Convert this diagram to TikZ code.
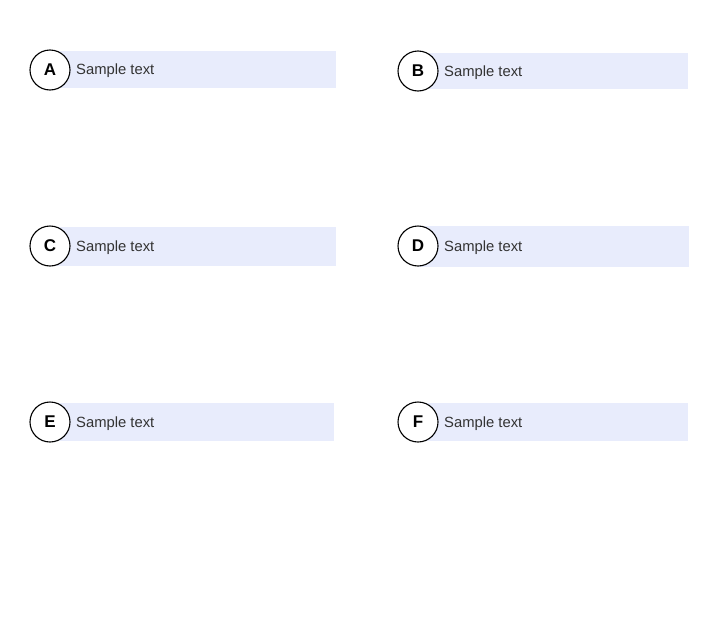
\documentclass[tikz,border=0pt]{standalone}
\usepackage{fontspec}
\setmainfont{Liberation Sans}
\definecolor{bandfill}{HTML}{E8ECFC}
\definecolor{txt}{HTML}{333333}
\begin{document}
\begin{tikzpicture}[x=1pt,y=-1pt,
  band/.style={fill=bandfill,draw=none},
  badge/.style={circle,draw=black,line width=1.1pt,fill=white,minimum size=40pt,inner sep=0pt,font=\fontsize{17}{19}\selectfont\bfseries},
  lbl/.style={anchor=west,inner sep=0pt,text=txt,font=\fontsize{14.8}{16}\selectfont}]
\useasboundingbox (0,0) rectangle (720,616);
% row 1
\fill[band] (50,51) rectangle (336,88);
\node[badge] (A) at (50,70) {A};
\node[lbl] (tA) at (76,71) {Sample text};
\fill[band] (418,53) rectangle (688,89);
\node[badge] (B) at (418,71) {B};
\node[lbl] (tB) at (444,72.5) {Sample text};
% row 2
\fill[band] (50,227) rectangle (336,266);
\node[badge] (C) at (50,246) {C};
\node[lbl] (tC) at (76,248) {Sample text};
\fill[band] (418,226) rectangle (689,267);
\node[badge] (D) at (418,246) {D};
\node[lbl] (tD) at (444,248) {Sample text};
% row 3
\fill[band] (50,403) rectangle (334,441);
\node[badge] (E) at (50,422) {E};
\node[lbl] (tE) at (76,424) {Sample text};
\fill[band] (418,403) rectangle (688,441);
\node[badge] (F) at (418,422) {F};
\node[lbl] (tF) at (444,423.5) {Sample text};
\end{tikzpicture}
\end{document}
